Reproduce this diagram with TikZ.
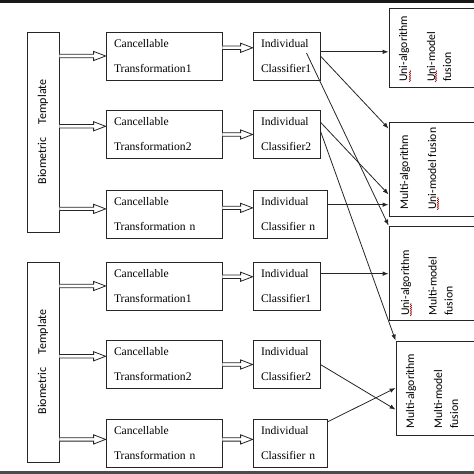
\documentclass[tikz,border=0pt]{standalone}
\usepackage{fontspec}
\setmainfont{Liberation Serif}
\newfontfamily\serfont{Liberation Serif}
\newfontfamily\calfont{Carlito}
\usetikzlibrary{arrows.meta,calc,decorations.pathmorphing}

\begin{document}
\begin{tikzpicture}[x=1pt,y=1pt,
    box/.style={draw=black!85,line width=0.8pt,inner sep=0pt},
    tbox/.style={box,align=left,inner xsep=8pt,minimum height=48pt,font=\serfont\fontsize{11.6}{25}\selectfont},
    rlbl/.style={rotate=90,anchor=west,inner sep=0pt,align=left,font=\calfont\fontsize{11.7}{16}\selectfont},
    dbl/.style={draw=black!85,fill=white,line width=0.8pt,line join=miter,
        to path={let \p1=(\tikztostart), \p2=(\tikztotarget) in
            (\x1,\y1+1.7pt) -- (\x2-12pt,\y1+1.7pt) -- (\x2-12pt,\y1+4.6pt) -- (\x2,\y1)
            -- (\x2-12pt,\y1-4.6pt) -- (\x2-12pt,\y1-1.7pt) -- (\x1,\y1-1.7pt)}},
    arr/.style={black!85,line width=0.8pt,-{Latex[length=6pt,width=4.5pt]}},
    squig/.style={red!60!black,line width=0.5pt,decorate,decoration={snake,amplitude=0.7pt,segment length=2.2pt}}
]
\path[use as bounding box,clip] (0,0) rectangle (474,474);
\fill[black!90] (0,471) rectangle (474,474);
\fill[black!70] (0,0) rectangle (474,3);

% templates
\node[box,minimum width=32pt,minimum height=200pt] (bt1) at (43,342) {};
\node[rotate=90,font=\calfont\fontsize{12}{14}\selectfont] (bt1lbl) at (bt1) {Biometric\hspace{13pt}Template};
\node[box,minimum width=32pt,minimum height=200pt] (bt2) at (43,112) {};
\node[rotate=90,font=\calfont\fontsize{12}{14}\selectfont] (bt2lbl) at (bt2) {Biometric\hspace{13pt}Template};

% transformations
\node[tbox,text width=100pt] (ct1) at (164,418) {Cancellable\\Transformation1};
\node[tbox,text width=100pt] (ct2) at (164,339.5) {Cancellable\\Transformation2};
\node[tbox,text width=100pt] (ctn) at (164,260) {Cancellable\\Transformation n};
\node[tbox,text width=100pt] (ct1b) at (164,188) {Cancellable\\Transformation1};
\node[tbox,text width=100pt] (ct2b) at (164,109.5) {Cancellable\\Transformation2};
\node[tbox,text width=100pt] (ctnb) at (164,30.5) {Cancellable\\Transformation n};

% classifiers
\node[tbox,text width=51pt] (ic1) at (286.5,418) {Individual\\Classifier1};
\node[tbox,text width=51pt] (ic2) at (286.5,339.5) {Individual\\Classifier2};
\node[tbox,text width=58pt] (icn) at (290,260) {Individual\\Classifier n};
\node[tbox,text width=51pt] (ic1b) at (286.5,188) {Individual\\Classifier1};
\node[tbox,text width=51pt] (ic2b) at (286.5,109.5) {Individual\\Classifier2};
\node[tbox,text width=58pt] (icnb) at (290,30.5) {Individual\\Classifier n};

% fusion boxes (cut at the right)
\node[box,minimum width=91pt,minimum height=79pt] (fb1) at (434.5,426.5) {};
\node[box,minimum width=91pt,minimum height=94pt] (fb2) at (434.5,305) {};
\node[box,minimum width=91pt,minimum height=94pt] (fb3) at (434.5,201) {};
\node[box,minimum width=84pt,minimum height=94pt] (fb4) at (438,86) {};

\node[rlbl] (f1a) at (404,392) {Uni-algorithm};
\node[rlbl] (f1b) at (439,392) {Uni-model\\fusion};
\node[rlbl] (f2a) at (405,264) {Multi-algorithm};
\node[rlbl] (f2b) at (432,264) {Uni-model fusion};
\node[rlbl] (f3a) at (406,158) {Uni-algorithm};
\node[rlbl] (f3b) at (440.5,158) {Multi-model\\fusion};
\node[rlbl] (f4a) at (411,45) {Multi-algorithm};
\node[rlbl] (f4b) at (446,45) {Multi-model\\fusion};

\draw[squig] (410,392) -- (410,404);
\draw[squig] (436,392) -- (436,404);
\draw[squig] (438,264) -- (438,277);
\draw[squig] (411,158) -- (411,171);

% template -> transformation
\draw[dbl] (bt1.east |- ct1.west) to (ct1.west);
\draw[dbl] (bt1.east |- ct2.172) to (ct2.172);
\draw[dbl] (bt1.east |- ctn.175) to (ctn.175);
\draw[dbl] (bt2.east |- ct1b.west) to (ct1b.west);
\draw[dbl] (bt2.east |- ct2b.172) to (ct2b.172);
\draw[dbl] (bt2.east |- ctnb.176) to (ctnb.176);

% transformation -> classifier
\draw[dbl] (ct1.8) to (ct1.8 -| ic1.west);
\draw[dbl] (ct2.east) to (ic2.west);
\draw[dbl] (ctn.6) to (ctn.6 -| icn.west);
\draw[dbl] (ct1b.9) to (ct1b.9 -| ic1b.west);
\draw[dbl] (ct2b.east) to (ic2b.west);
\draw[dbl] (ctnb.4) to (ctnb.4 -| icnb.west);

% classifier -> fusion
\draw[arr] (ic1.7) -- (ic1.7 -| fb1.west);
\draw[arr] (ic1.east) -- ([yshift=-7pt]fb2.north west);
\draw[arr] ([xshift=20pt,yshift=3pt]ic1.center) -- (fb3.north west);
\draw[arr] (ic2.20) -- (fb2.209);
\draw[arr] (ic2.6) -- (fb4.north west);
\draw[arr] (icn.14) -- (icn.14 -| fb2.west);
\draw[arr] (ic1b.20) -- (ic1b.20 -| fb3.west);
\draw[arr] (ic2b.east) -- (fb4.207);
\draw[arr] (icnb.30) -- (fb4.west);
\end{tikzpicture}
\end{document}
